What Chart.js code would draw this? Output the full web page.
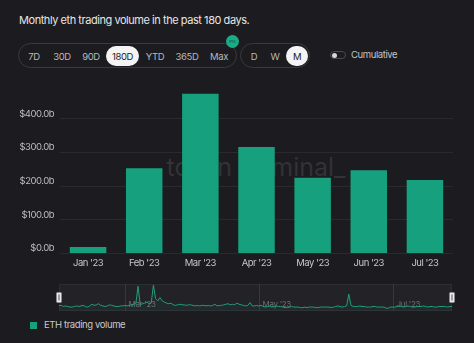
<!DOCTYPE html>
<html>
<head>
<meta charset="utf-8">
<script src="https://cdn.jsdelivr.net/npm/chart.js@4.4.1/dist/chart.umd.min.js"></script>
<style>
  html, body { margin: 0; padding: 0; }
  body { width: 474px; height: 343px; background: #1c1b1f; position: relative; overflow: hidden; font-family: Inter, "Noto Sans", sans-serif; }
  .title { position: absolute; left: 19px; top: 13px; font-size: 11px; color: #e6e6e6; letter-spacing: -0.45px; white-space: nowrap; }
  .group { position: absolute; border: 1px solid #3a393e; border-radius: 13px; box-sizing: border-box; }
  .btn { position: absolute; top: 0; transform: translateX(-50%); font-size: 9.5px; color: #b9b9bd; letter-spacing: -0.4px; line-height: 25px; white-space: nowrap; }
  .active { position: absolute; background: #f4f4f4; border-radius: 10px; }
  .active span { position: absolute; left: 50%; top: 50%; transform: translate(-50%, -50%); color: #222226; font-size: 9.5px; letter-spacing: -0.4px; }
  .pro { position: absolute; left: 226px; top: 35px; width: 13px; height: 13px; border-radius: 50%; background: #19ad86; color: #0c4a39; font-size: 4px; text-align: center; line-height: 13px; }
  .toggle { position: absolute; left: 330px; top: 51px; width: 16px; height: 8px; border: 1px solid #4a494e; border-radius: 5px; box-sizing: border-box; }
  .toggle::after { content: ""; position: absolute; left: 1px; top: 0.5px; width: 5px; height: 5px; border-radius: 50%; background: #d8d8d8; }
  .cumul { position: absolute; left: 351px; top: 49px; font-size: 9.5px; color: #c4c4c8; letter-spacing: -0.4px; }
  .watermark { position: absolute; left: 256px; top: 167px; transform: translate(-50%, -50%); font-size: 25px; color: #333236; white-space: nowrap; }
  #main { position: absolute; left: 0; top: 80px; }
  #nav { position: absolute; left: 0; top: 278px; }
  .legend { position: absolute; left: 30px; top: 319px; font-size: 9.5px; color: #c9c9cd; letter-spacing: -0.4px; white-space: nowrap; }
  .legend i { display: inline-block; width: 7px; height: 7px; background: #17a07e; margin-right: 7px; vertical-align: -0.5px; }
</style>
</head>
<body>
<div class="title">Monthly eth trading volume in the past 180 days.</div>

<div class="group" style="left:18px; top:43px; width:219px; height:25px;">
  <div class="active" style="left:87px; top:2px; width:33px; height:20px;"><span>180D</span></div>
  <span class="btn" style="left:15px">7D</span>
  <span class="btn" style="left:43px">30D</span>
  <span class="btn" style="left:72px">90D</span>
  <span class="btn" style="left:136px">YTD</span>
  <span class="btn" style="left:168px">365D</span>
  <span class="btn" style="left:200px">Max</span>
</div>
<div class="pro">Pro</div>
<div class="group" style="left:240px; top:43px; width:70px; height:25px;">
  <div class="active" style="left:45px; top:2px; width:22px; height:20px;"><span>M</span></div>
  <span class="btn" style="left:13px">D</span>
  <span class="btn" style="left:34px">W</span>
</div>
<div class="toggle"></div>
<div class="cumul">Cumulative</div>

<div class="watermark">token terminal_</div>
<canvas id="main" width="474" height="193"></canvas>
<canvas id="nav" width="474" height="40"></canvas>
<div class="legend"><i></i>ETH trading volume</div>

<script>
// Monthly ETH trading volume, billions of USD
const months = ["Jan '23", "Feb '23", "Mar '23", "Apr '23", "May '23", "Jun '23", "Jul '23"];
const monthlyVolume = [19.5, 253, 474, 316, 225, 247, 218];
const seriesName = "ETH trading volume";

// Daily volume for the navigator strip, Jan 30 to Jul 28 (billions of USD)
const dailyJan = [9.5, 10];
const dailyFeb = [8, 9, 8, 7, 7, 8, 9, 8, 9, 10, 8, 7, 9, 12, 10, 11, 13, 10, 9, 8, 9, 11, 10, 9, 8, 8, 9, 9];
const dailyMar = [10, 9, 10, 11, 12, 13, 44, 11, 13, 14, 16, 13, 14, 46, 22, 18, 24, 18, 16, 14, 13, 14, 11, 10, 11, 12, 11, 11, 10, 11, 11];
const dailyApr = [10, 9, 10, 9, 10, 10, 9, 10, 9, 10, 12, 9, 10, 10, 11, 12, 13, 11, 12, 11, 14, 12, 11, 10, 9, 10, 15, 9, 9, 10];
const dailyMay = [9, 10, 8, 7, 8, 9, 7, 8, 9, 8, 8, 7, 6, 6, 7, 8, 7, 7, 7, 6, 6, 7, 6, 7, 7, 7, 6, 6, 7, 7, 7];
const dailyJun = [7, 7, 6, 7, 8, 9, 8, 7, 8, 9, 30, 10, 8, 8, 8, 9, 8, 8, 7, 7, 7, 8, 8, 7, 7, 7, 7, 5, 5, 7];
const dailyJul = [7, 7, 8, 9, 8, 7, 8, 9, 8, 7, 7, 8, 8, 8, 9, 8, 7, 8, 8, 7, 7, 8, 8, 8, 8, 7, 8, 8];
const dailyVolume = [].concat(dailyJan, dailyFeb, dailyMar, dailyApr, dailyMay, dailyJun, dailyJul);

// Navigator month markers: day index and label
const navTickIndex = [30, 91, 152];
const navTickLabels = ["Mar '23", "May '23", "Jul '23"];

const green = '#17a07e';
const fontFamily = "Inter, 'Noto Sans', sans-serif";

// Tighter letter spacing for canvas text
const tightText = {
  id: 'tightText',
  beforeLayout(chart) { chart.ctx.letterSpacing = '-0.5px'; },
  beforeDraw(chart) { chart.ctx.letterSpacing = '-0.5px'; }
};

new Chart(document.getElementById('main'), {
  type: 'bar',
  data: {
    labels: months,
    datasets: [{ label: seriesName, data: monthlyVolume, backgroundColor: green, borderWidth: 0, barPercentage: 0.65, categoryPercentage: 1 }]
  },
  options: {
    responsive: false,
    animation: false,
    layout: { padding: { top: 10, right: 21, left: 0, bottom: 0 } },
    plugins: { legend: { display: false }, tooltip: { enabled: false } },
    scales: {
      x: {
        grid: { display: false, drawTicks: false },
        border: { display: false },
        ticks: { color: '#c6c6ca', font: { family: fontFamily, size: 9.5 }, padding: 4, maxRotation: 0 }
      },
      y: {
        min: 0, max: 480,
        afterFit: (s) => { s.width = 60; },
        grid: { color: '#2a292e', drawTicks: false },
        border: { display: false },
        ticks: {
          stepSize: 100, includeBounds: false, padding: 6, labelOffset: -5,
          color: '#bdbdc1', font: { family: fontFamily, size: 9.5 },
          callback: (v) => '$' + v.toFixed(1) + 'b'
        }
      }
    }
  },
  plugins: [tightText]
});

// Navigator strip: panel, month dividers, labels and drag handles
const navDecor = {
  id: 'navDecor',
  beforeDatasetsDraw(chart) {
    const { ctx, chartArea: a, scales: { x } } = chart;
    ctx.save();
    ctx.fillStyle = '#232227';
    ctx.fillRect(a.left, a.top, a.right - a.left, a.bottom - a.top);
    ctx.strokeStyle = '#2e2d32';
    ctx.lineWidth = 1;
    ctx.strokeRect(a.left + 0.5, a.top + 0.5, a.right - a.left - 1, a.bottom - a.top - 1);
    ctx.font = '8px ' + fontFamily;
    ctx.letterSpacing = '-0.3px';
    ctx.textBaseline = 'middle';
    navTickIndex.forEach((d, i) => {
      const px = Math.round(x.getPixelForValue(d)) + 0.5;
      ctx.strokeStyle = '#38373c';
      ctx.beginPath(); ctx.moveTo(px, a.top); ctx.lineTo(px, a.bottom); ctx.stroke();
      ctx.fillStyle = '#6e6d72';
      ctx.fillText(navTickLabels[i], px + 3, a.bottom - 6);
    });
    ctx.restore();
  },
  afterDraw(chart) {
    const { ctx, chartArea: a } = chart;
    const cy = (a.top + a.bottom) / 2;
    ctx.save();
    [a.left, a.right].forEach((hx) => {
      ctx.fillStyle = '#e9e9ea';
      ctx.strokeStyle = '#8a898e';
      ctx.lineWidth = 1;
      ctx.beginPath();
      ctx.roundRect(hx - 2.5, cy - 5, 5, 10, 1);
      ctx.fill(); ctx.stroke();
      ctx.fillStyle = '#55545a';
      ctx.fillRect(hx - 0.5, cy - 3, 1, 6);
    });
    ctx.restore();
  }
};

new Chart(document.getElementById('nav'), {
  type: 'line',
  data: {
    labels: dailyVolume.map((_, i) => i),
    datasets: [{
      label: seriesName, data: dailyVolume,
      borderColor: '#1f9e7d', borderWidth: 1, pointRadius: 0, tension: 0,
      fill: 'origin', backgroundColor: 'rgba(23,160,126,0.07)'
    }]
  },
  options: {
    responsive: false,
    animation: false,
    layout: { padding: { top: 6, bottom: 7, left: 59, right: 22 } },
    plugins: { legend: { display: false }, tooltip: { enabled: false } },
    scales: {
      x: { type: 'linear', min: 0, max: dailyVolume.length - 1, display: false },
      y: { min: 0, max: 48, display: false }
    }
  },
  plugins: [navDecor]
});
</script>
</body>
</html>
